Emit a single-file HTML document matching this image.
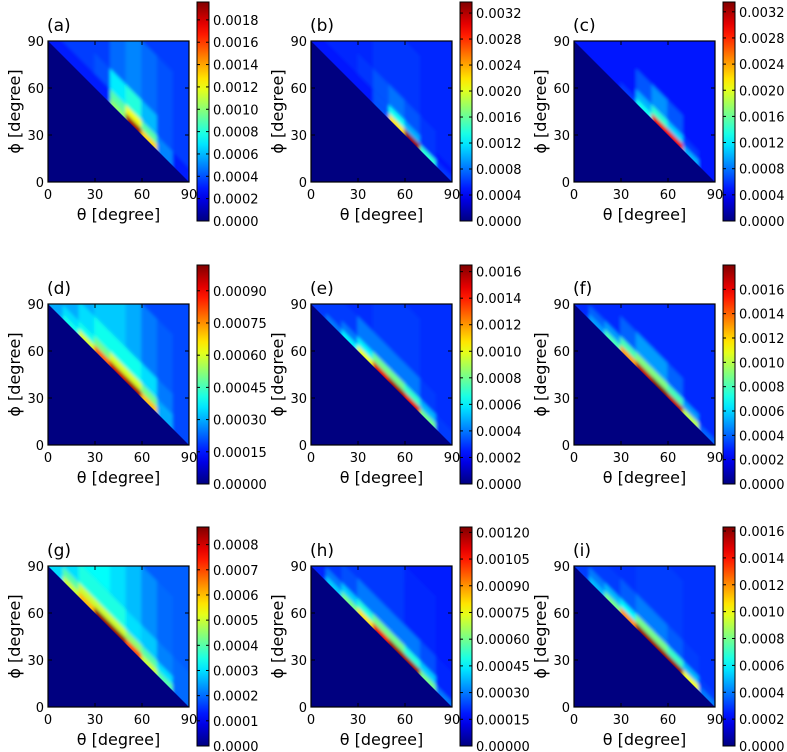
<!DOCTYPE html>
<html><head><meta charset="utf-8">
<style>
html,body{margin:0;padding:0;background:#fff;}
svg{display:block;font-family:"DejaVu Sans","Liberation Sans",sans-serif;}
</style></head>
<body>
<svg id="fig" width="787" height="752" viewBox="0 0 787 752" xmlns="http://www.w3.org/2000/svg">
<defs>
<filter id="blur" x="-10%" y="-10%" width="120%" height="120%"><feGaussianBlur stdDeviation="1.7"/></filter>
</defs>
</svg>
<script>
// ---- data ----
const panelLabels = ["(a)","(b)","(c)","(d)","(e)","(f)","(g)","(h)","(i)"];
const vmaxs = [0.00196,0.00337,0.00335,0.00102,0.00165,0.0018,0.00087,0.00123,0.00163];
const bgVals = [0.00036,0.00055,0.0005,0.0002,0.00028,0.0003,0.00019,0.00019,0.00028];
const thetaBins = [0,10,20,30,40,50,60,70,80];
const band1 = [
 [0.0003,0.0003,0.0003,0.0003,0.0010,0.0019,0.0013,0.0005,0.0003],
 [0.0005,0.0005,0.0005,0.0005,0.0007,0.0022,0.0033,0.0014,0.0006],
 [0.0005,0.0005,0.0005,0.0006,0.0013,0.0030,0.0030,0.0010,0.0005],
 [0.0003,0.0004,0.0006,0.0008,0.00095,0.00098,0.0007,0.0003,0.0002],
 [0.0003,0.0004,0.0006,0.0010,0.0015,0.0016,0.0015,0.0008,0.0003],
 [0.0003,0.0005,0.0008,0.0013,0.0017,0.0018,0.0017,0.0010,0.0004],
 [0.0003,0.0005,0.0006,0.00085,0.00085,0.0007,0.0005,0.0004,0.0002],
 [0.0002,0.0004,0.0006,0.0008,0.0011,0.0012,0.0012,0.0006,0.0003],
 [0.0003,0.0005,0.0008,0.0012,0.0016,0.0016,0.0016,0.0010,0.0004]
];
const band2 = [
 [0.0003,0.0003,0.0003,0.0003,0.0009,0.0012,0.0009,0.0005,0.0003],
 [0.0005,0.0005,0.0005,0.0005,0.0007,0.0013,0.0010,0.0006,0.0005],
 [0.0005,0.0005,0.0005,0.0005,0.0010,0.0014,0.0011,0.0006,0.0005],
 [0.0003,0.00035,0.0004,0.0005,0.0006,0.0006,0.0005,0.0003,0.0002],
 [0.0003,0.0003,0.0004,0.0006,0.0008,0.0008,0.0007,0.0005,0.0003],
 [0.0003,0.0004,0.0005,0.0008,0.0009,0.0009,0.0008,0.0005,0.0003],
 [0.0003,0.0004,0.0005,0.0005,0.0005,0.00045,0.0004,0.0003,0.0002],
 [0.0002,0.0003,0.0004,0.0005,0.0006,0.0006,0.0005,0.0004,0.0002],
 [0.0003,0.0004,0.0005,0.0006,0.0008,0.0008,0.0007,0.0005,0.0003]
];
const band3 = [
 [0.00036,0.00036,0.00036,0.0004,0.0007,0.0008,0.0006,0.0004,0.00036],
 [0.00055,0.00055,0.00055,0.0006,0.0007,0.0008,0.0007,0.0006,0.00055],
 [0.0005,0.0005,0.0005,0.0005,0.0007,0.0009,0.0007,0.0005,0.0005],
 [0.00022,0.0003,0.00035,0.0004,0.0004,0.0004,0.00035,0.00025,0.0002],
 [0.00028,0.0003,0.0003,0.0004,0.0004,0.0004,0.0004,0.0003,0.00028],
 [0.0003,0.0003,0.0003,0.0004,0.0005,0.0005,0.0004,0.0003,0.0003],
 [0.00022,0.0003,0.00035,0.00035,0.00035,0.0003,0.00028,0.00022,0.0002],
 [0.00019,0.00022,0.00025,0.0003,0.0003,0.0003,0.0003,0.00025,0.0002],
 [0.00028,0.0003,0.0003,0.00035,0.0004,0.0004,0.00035,0.0003,0.00028]
];
const band4 = [
 [0.00036,0.00036,0.00036,0.00036,0.00045,0.0005,0.00045,0.0004,0.00036],
 [0.00055,0.00055,0.00055,0.00055,0.0006,0.0006,0.0006,0.00055,0.00055],
 [0.0005,0.0005,0.0005,0.0005,0.0005,0.0005,0.0005,0.0005,0.0005],
 [0.0002,0.00022,0.0003,0.00033,0.00033,0.0003,0.00025,0.00022,0.0002],
 [0.00028,0.00028,0.00028,0.00028,0.0003,0.0003,0.0003,0.00028,0.00028],
 [0.0003,0.0003,0.0003,0.0003,0.0003,0.0003,0.0003,0.0003,0.0003],
 [0.0002,0.00028,0.00033,0.00033,0.0003,0.00027,0.00023,0.0002,0.00019],
 [0.00019,0.0002,0.00022,0.00022,0.00022,0.00022,0.0002,0.0002,0.00019],
 [0.00028,0.00028,0.00028,0.00028,0.0003,0.0003,0.0003,0.00028,0.00028]
];
const cbTicks = [
 ["0.0000","0.0002","0.0004","0.0006","0.0008","0.0010","0.0012","0.0014","0.0016","0.0018"],
 ["0.0000","0.0004","0.0008","0.0012","0.0016","0.0020","0.0024","0.0028","0.0032"],
 ["0.0000","0.0004","0.0008","0.0012","0.0016","0.0020","0.0024","0.0028","0.0032"],
 ["0.00000","0.00015","0.00030","0.00045","0.00060","0.00075","0.00090"],
 ["0.0000","0.0002","0.0004","0.0006","0.0008","0.0010","0.0012","0.0014","0.0016"],
 ["0.0000","0.0002","0.0004","0.0006","0.0008","0.0010","0.0012","0.0014","0.0016"],
 ["0.0000","0.0001","0.0002","0.0003","0.0004","0.0005","0.0006","0.0007","0.0008"],
 ["0.00000","0.00015","0.00030","0.00045","0.00060","0.00075","0.00090","0.00105","0.00120"],
 ["0.0000","0.0002","0.0004","0.0006","0.0008","0.0010","0.0012","0.0014","0.0016"]
];
const axisTicks = [0,30,60,90];
const bandWidths = [[0,3.5],[3.5,9],[9,22],[22,60]];

// ---- rendering ----
const NS="http://www.w3.org/2000/svg";
const svg=document.getElementById('fig');
function jet(t){
  t=Math.max(0,Math.min(1,t));
  const c=x=>Math.round(255*Math.max(0,Math.min(1,x)));
  const r=c(Math.min(4*t-1.5,-4*t+4.5)), g=c(Math.min(4*t-0.5,-4*t+3.5)), b=c(Math.min(4*t+0.5,-4*t+2.5));
  return `rgb(${r},${g},${b})`;
}
function el(tag,attrs,parent){const e=document.createElementNS(NS,tag);for(const k in attrs)e.setAttribute(k,attrs[k]);(parent||svg).appendChild(e);return e;}
const colX=[48,311,574], rowY=[41,304,566], S=141;
const defs=svg.querySelector('defs');
const grad=el('linearGradient',{id:'jetgrad',x1:0,y1:1,x2:0,y2:0},defs);
for(let i=0;i<=20;i++){el('stop',{offset:i/20,'stop-color':jet(i/20)},grad);}

for(let p=0;p<9;p++){
  const px=colX[p%3], py=rowY[Math.floor(p/3)], vmax=vmaxs[p];
  const sx=v=>px+v/90*S, sy=v=>py+S-v/90*S;
  const g=el('g',{});
  
  
  const cp=el('clipPath',{id:'clip'+p},defs);
  el('polygon',{points:`${sx(0)},${sy(90)} ${sx(90)},${sy(0)} ${sx(90)},${sy(90)}`},cp);
  const low=el('rect',{x:px,y:py,width:S,height:S,fill:jet(0)},g);
  
  
  const up=el('g',{'clip-path':`url(#clip${p})`},g);
  const heat=el('g',{filter:'url(#blur)'},up);
  el('rect',{x:px-5,y:py-5,width:S+10,height:S+10,fill:jet(bgVals[p]/vmax)},heat);
  const layers=[band4[p],band3[p],band2[p],band1[p]], widths=[bandWidths[3],bandWidths[2],bandWidths[1],bandWidths[0]];
  for(let L=0;L<4;L++){
    for(let i=0;i<thetaBins.length;i++){
      const t0=thetaBins[i]-0.5, t1=thetaBins[i]+10.5, w0=widths[L][0]-(L===3?3:0), w1=widths[L][1];
      const pts=[[t0,90-t0+w0],[t1,90-t1+w0],[t1,90-t1+w1],[t0,90-t0+w1]].map(q=>sx(q[0])+','+sy(q[1])).join(' ');
      const cell=el('polygon',{points:pts,fill:jet(layers[L][i]/vmax)},heat);
      
      
    }
  }
  el('rect',{x:px,y:py,width:S,height:S,fill:'none',stroke:'#000','stroke-width':1.2},g);
  for(const v of axisTicks){
    el('line',{x1:sx(v),x2:sx(v),y1:py+S,y2:py+S-4,stroke:'#000'},g);
    el('line',{x1:sx(v),x2:sx(v),y1:py,y2:py+4,stroke:'#000'},g);
    el('line',{x1:px,x2:px+4,y1:sy(v),y2:sy(v),stroke:'#000'},g);
    el('line',{x1:px+S,x2:px+S-4,y1:sy(v),y2:sy(v),stroke:'#000'},g);
    const xt=el('text',{x:sx(v),y:py+S+17,'font-size':13,'text-anchor':'middle'},g);xt.textContent=v;
    
    
    const yt=el('text',{x:px-4,y:sy(v)+5,'font-size':13,'text-anchor':'end'},g);yt.textContent=v;
    
    
  }
  const xl=el('text',{x:px+S/2,y:py+S+38,'font-size':16,'text-anchor':'middle'},g);xl.textContent='θ [degree]';
  
  
  const yl=el('text',{x:0,y:0,'font-size':16,'text-anchor':'middle',transform:`translate(${px-28},${py+S/2}) rotate(-90)`},g);yl.textContent='ϕ [degree]';
  
  
  const pl=el('text',{x:px-1,y:py-10,'font-size':17},g);pl.textContent=panelLabels[p];
  
  
  const cx=px+149, cy=py-39, ch=219, cw=12;
  const cb=el('rect',{x:cx,y:cy,width:cw,height:ch,fill:'url(#jetgrad)',stroke:'#000','stroke-width':1},g);
  
  
  for(const lab of cbTicks[p]){
    const v=parseFloat(lab), yy=cy+ch-v/vmax*ch;
    el('line',{x1:cx+cw,x2:cx+cw-3,y1:yy,y2:yy,stroke:'#000'},g);
    el('line',{x1:cx,x2:cx+3,y1:yy,y2:yy,stroke:'#000'},g);
    const t=el('text',{x:cx+cw+4,y:yy+5,'font-size':13},g);t.textContent=lab;
    
    
  }
}
</script>
</body></html>
